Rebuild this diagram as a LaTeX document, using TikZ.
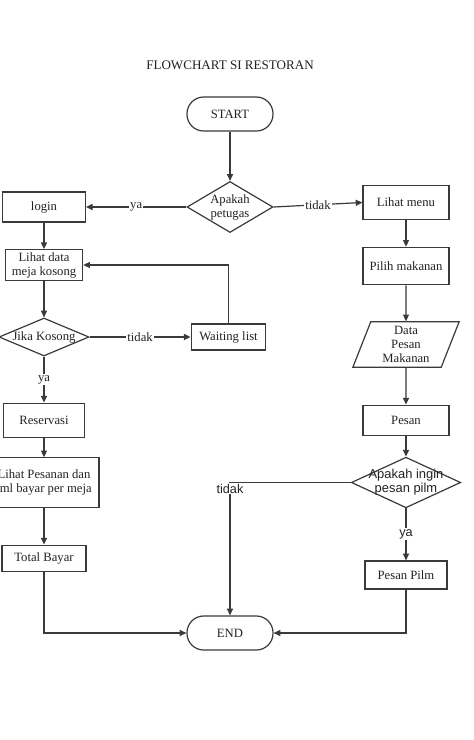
\documentclass[tikz,border=0pt]{standalone}
\usepackage{fontspec}
\setmainfont{Liberation Serif}
\newfontfamily\arialfont{Liberation Sans}
\usetikzlibrary{shapes.geometric,arrows.meta}
\definecolor{ink}{HTML}{222222}
\definecolor{edge}{HTML}{3A3A3A}
\tikzset{
  base/.style={draw=edge, line width=0.9pt, text=ink, font=\fontsize{9.5}{10.5}\selectfont, align=center, inner sep=1pt},
  proc/.style={base, rectangle, minimum width=64.5pt, minimum height=23pt},
  term/.style={base, rectangle, rounded corners=12.5pt, minimum width=64.5pt, minimum height=25.5pt},
  dec/.style={base, diamond, inner sep=0pt},
  io/.style={base, trapezium, trapezium left angle=72, trapezium right angle=108, trapezium stretches=true, inner sep=0.5pt},
  dtext/.style={text=ink, font=\fontsize{9.5}{10.5}\selectfont, align=center, inner sep=0pt},
  dtexts/.style={dtext, font=\arialfont\fontsize{9.7}{10.5}\selectfont},
  arr/.style={draw=edge, line width=0.9pt, -{Triangle[length=5pt,width=4.5pt]}},
  lab/.style={fill=white, text=ink, font=\fontsize{9.5}{10.5}\selectfont, inner sep=1pt},
  labs/.style={lab, font=\arialfont\fontsize{9.5}{10.5}\selectfont},
}
\begin{document}
\begin{tikzpicture}[x=0.75pt,y=-0.75pt]
  \useasboundingbox[fill=white] (0,0) rectangle (474,740);
  \node[text=ink, font=\fontsize{9.8}{12}\selectfont] (title) at (230,65) {FLOWCHART SI RESTORAN};
  \node[term] (start) at (230,114) {START};
  \node[dec, minimum width=64.5pt, minimum height=38.25pt,
    label={[dtext]center:Apakah\\petugas}] (petugas) at (230,207) {};
  % kolom kiri
  \node[proc, minimum width=62pt, minimum height=22.5pt] (login) at (44,207) {login};
  \node[proc, minimum width=58pt] (lihatdata) at (44,265) {Lihat data\\meja kosong};
  \node[dec, minimum width=67.5pt, minimum height=28.5pt,
    label={[dtext]center:Jika Kosong}] (kosong) at (44,337) {};
  \node[proc, minimum width=56pt, minimum height=19.5pt] (waiting) at (228.5,337) {Waiting list};
  \node[proc, minimum width=61pt, minimum height=26pt] (reservasi) at (44,420.5) {Reservasi};
  \node[proc, minimum width=82.5pt, minimum height=37pt] (pesanan) at (44,482.5) {Lihat Pesanan dan\\jml bayar per meja};
  \node[proc, minimum width=63pt, minimum height=20pt] (total) at (44,558.5) {Total Bayar};
  % kolom kanan
  \node[proc, minimum height=26pt] (menu) at (406,202.5) {Lihat menu};
  \node[proc, minimum height=28pt] (pilih) at (406,266) {Pilih makanan};
  \node[io, minimum width=80pt, minimum height=34pt] (data) at (406,344.5) {Data\\Pesan\\Makanan};
  \node[proc] (pesan) at (406,420.5) {Pesan};
  \node[dec, minimum width=82pt, minimum height=38pt,
    label={[dtexts]center:Apakah ingin\\pesan pilm}] (ingin) at (406,482.5) {};
  \node[proc, minimum width=61.5pt, minimum height=21pt] (pilm) at (406,575) {Pesan Pilm};
  \node[term] (end) at (230,633) {END};

  \draw[arr] (start) -- (petugas);
  \draw[arr] (petugas) -- node[lab]{ya} (login);
  \draw[arr] (petugas.east) -- node[lab]{tidak} (menu.west);
  \draw[arr] (login) -- (lihatdata);
  \draw[arr] (lihatdata) -- (kosong);
  \draw[arr] (kosong) -- node[lab]{tidak} (waiting);
  \draw[arr] (waiting.north) |- (lihatdata.east);
  \draw[arr] (kosong) -- node[lab]{ya} (reservasi);
  \draw[arr] (reservasi) -- (pesanan);
  \draw[arr] (pesanan) -- (total);
  \draw[arr] (total.south) |- (end.west);
  \foreach \a/\b in {menu/pilih,pilih/data,data/pesan,pesan/ingin}
    \draw[arr] (\a) -- (\b);
  \draw[arr] (ingin) -- node[labs]{ya} (pilm);
  \draw[arr] (pilm.south) |- (end.east);
  \draw[arr] (ingin.west) -| node[labs, pos=0.5, yshift=-4.5pt]{tidak} (end.north);
\end{tikzpicture}
\end{document}
